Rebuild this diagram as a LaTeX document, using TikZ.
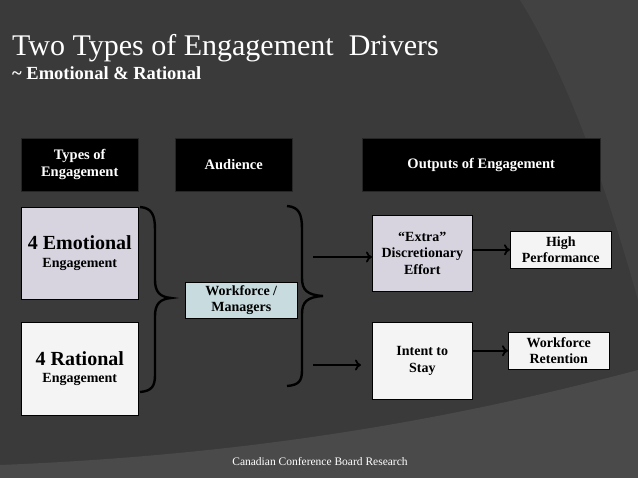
\documentclass[tikz,border=0pt]{standalone}
\usepackage{fontspec}
\setmainfont{Liberation Serif}
\usetikzlibrary{arrows.meta}
\definecolor{bg}{HTML}{3A3A3A}
\definecolor{bgl}{HTML}{424242}
\definecolor{bgb}{HTML}{4A4A4A}
\definecolor{lav}{HTML}{D7D4E0}
\definecolor{wht}{HTML}{F4F4F4}
\definecolor{blu}{HTML}{C8DCE0}
\tikzset{
 hdr/.style={fill=black,draw=black!70!gray,text=white,font=\bfseries\fontsize{14.5}{16.5}\selectfont,align=center,anchor=north west,inner sep=0pt},
 box/.style={draw=black,line width=0.6pt,font=\bfseries\fontsize{14}{16.5}\selectfont,align=center,anchor=north west,inner sep=0pt},
 brc/.style={line width=2.4pt,black},
 arr/.style={line width=1.8pt,-{To[length=6pt,width=11pt]}}
}
\begin{document}
\begin{tikzpicture}[x=1pt,y=-1pt]
\fill[bg] (0,0) rectangle (638,478);
\fill[bgl] (520,0) .. controls (570,80) and (610,200) .. (638,300) -- (638,0) -- cycle;
\fill[bgb] (0,478) -- (0,465) .. controls (250,455) and (450,420) .. (638,370) -- (638,478) -- cycle;
\useasboundingbox (0,0) rectangle (638,478);
\node[anchor=base west,text=white,font=\fontsize{30}{34}\selectfont,inner sep=0pt] (title) at (12,56) {Two Types of Engagement\ \ Drivers};
\node[anchor=base west,text=white,font=\bfseries\fontsize{18.5}{20}\selectfont,inner sep=0pt] (sub) at (12,80) {\textasciitilde{} Emotional \& Rational};
\node[hdr,minimum width=117,minimum height=53] (h1) at (21,138) {Types of\\Engagement};
\node[hdr,minimum width=117,minimum height=53] (h2) at (175,138) {Audience};
\node[hdr,minimum width=238,minimum height=53] (h3) at (362,138) {Outputs of Engagement};
\node[box,fill=lav,minimum width=117,minimum height=92] (emo) at (21,207) {{\fontsize{20}{22}\selectfont 4 Emotional}\\[1pt]Engagement};
\node[box,fill=wht,minimum width=117,minimum height=93] (rat) at (21,322) {{\fontsize{20}{22}\selectfont 4 Rational}\\[1pt]Engagement};
\node[box,fill=blu,minimum width=112,minimum height=36] (wf) at (185,282) {Workforce /\\Managers};
\node[box,fill=lav,minimum width=100,minimum height=76] (ex) at (372,215) {``Extra''\\Discretionary\\Effort};
\node[box,fill=wht,minimum width=100,minimum height=77] (st) at (372,322) {Intent to\\Stay};
\node[box,fill=wht,minimum width=101,minimum height=37] (hp) at (510,231) {High\\Performance};
\node[box,fill=wht,minimum width=101,minimum height=37] (wr) at (508,332) {Workforce\\Retention};
\draw[brc] (140,207) .. controls (152,208) and (155,215) .. (155,230) -- (155,280) .. controls (155,292) and (160,297) .. (171,298)
 .. controls (160,299) and (155,304) .. (155,316) -- (155,375) .. controls (155,386) and (152,391) .. (140,392);
\draw[brc] (287,206) .. controls (299,207) and (302,214) .. (302,229) -- (302,278) .. controls (302,290) and (307,295) .. (323,296)
 .. controls (307,297) and (302,302) .. (302,314) -- (302,370) .. controls (302,381) and (299,385) .. (287,386);
\coordinate (a1) at (313,257);
\coordinate (a2) at (313,365);
\draw[arr] (a1) -- (a1-|ex.west);
\draw[arr] (a2) -- (361,365);
\draw[arr] (ex.east|-hp.west) -- (hp.west);
\draw[arr] (st.east|-wr.west) -- (wr.west);
\node[text=white,font=\fontsize{11.5}{13}\selectfont,inner sep=0pt] (ft) at (320,462) {Canadian Conference Board Research};
\end{tikzpicture}
\end{document}
